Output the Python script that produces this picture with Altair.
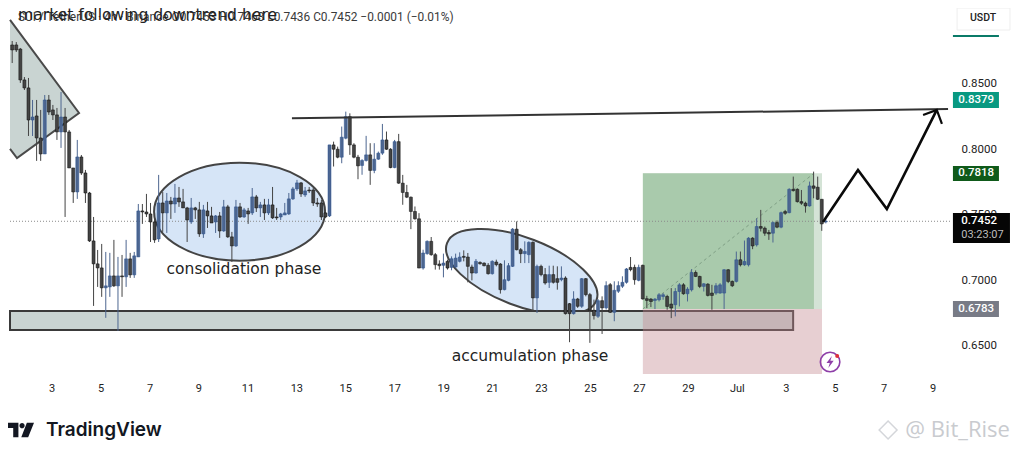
import altair as alt
import pandas as pd

opens = [.8798,.8798,.8767,.8531,.8470,.8225,.8256,.8088,.7966,.8378,
 .8302,.8264,.8134,.8248,.8134,.7859,.7676,.7943,.7821,.7668,
 .7302,.7127,.7096,.6944,.6951,.7035,.6959,.7035,.7028,.7165,
 .7043,.7180,.7531,.7523,.7508,.7447,.7317,.7592,.7516,.7607,
 .7584,.7630,.7600,.7554,.7447,.7554,.7539,.7356,.7531,.7493,
 .7447,.7493,.7378,.7562,.7333,.7264,.7562,.7485,.7531,.7516,
 .7638,.7554,.7577,.7516,.7577,.7485,.7485,.7500,.7508,.7623,
 .7699,.7745,.7653,.7691,.7691,.7592,.7592,.7516,.7493,.8035,
 .8002,.7941,.8086,.8251,.8035,.7941,.7878,.7916,.7959,.7840,
 .7926,.7972,.8073,.8002,.7862,.8060,.7743,.7672,.7636,.7527,
 .7471,.7095,.7205,.7299,.7197,.7126,.7116,.7146,.7100,.7103,
 .7146,.7184,.7179,.7103,.7057,.7138,.7133,.7116,.7052,.7141,
 .7126,.6930,.7001,.7108,.7392,.7235,.7205,.7197,.7291,.6867,
 .7108,.7045,.6986,.7045,.7014,.7006,.7019,.6823,.6747,.6859,
 .6803,.7014,.6892,.6773,.6727,.6846,.6791,.6968,.6757,.6918,
 .6956,.6986,.7100,.7100,.7001,.7116,.6861,.6858,.6848,.6853,
 .6878,.6878,.6820,.6815,.6916,.6967,.6899,.6929,.7061,.7031,
 .6955,.6972,.6904,.6904,.6904,.6904,.7082,.6993,.6993,.7158,
 .7120,.7120,.7323,.7272,.7412,.7399,.7366,.7361,.7442,.7407,
 .7526,.7518,.7696,.7696,.7602,.7590,.7569,.7722,.7712,.7620,
 .7447]
highs = [.8828,.8820,.8775,.8553,.8546,.8378,.8378,.8302,.8416,.8416,
 .8340,.8317,.8439,.8317,.8149,.7859,.8073,.7958,.7844,.7676,
 .7485,.7233,.7279,.7218,.7211,.7310,.7180,.7195,.7310,.7211,
 .7218,.7584,.7584,.7661,.7592,.7516,.7806,.7676,.7668,.7638,
 .7737,.7714,.7699,.7562,.7630,.7562,.7600,.7577,.7600,.7562,
 .7500,.7523,.7615,.7577,.7371,.7615,.7592,.7554,.7554,.7706,
 .7653,.7600,.7623,.7623,.7714,.7554,.7516,.7592,.7668,.7714,
 .7768,.7752,.7714,.7714,.7706,.7630,.7615,.7539,.8035,.8060,
 .8022,.8175,.8289,.8276,.8048,.7959,.7926,.8104,.8048,.8048,
 .7984,.8195,.8137,.8010,.8073,.8119,.7806,.7730,.7641,.7565,
 .7514,.7235,.7306,.7332,.7210,.7154,.7205,.7159,.7184,.7205,
 .7215,.7230,.7210,.7121,.7164,.7146,.7138,.7133,.7154,.7159,
 .7133,.7154,.7133,.7400,.7451,.7248,.7299,.7299,.7299,.7121,
 .7121,.7095,.7113,.7113,.7108,.7108,.7032,.6828,.6918,.6867,
 .7019,.7019,.6905,.6854,.6859,.6879,.6994,.6981,.6994,.6994,
 .7032,.7095,.7179,.7121,.7121,.7121,.6883,.6866,.6866,.6904,
 .6904,.6891,.6942,.6942,.6980,.6980,.6949,.7087,.7077,.7036,
 .6980,.6980,.6967,.6980,.6980,.7087,.7087,.7000,.7221,.7221,
 .7305,.7331,.7331,.7475,.7539,.7412,.7386,.7450,.7458,.7526,
 .7539,.7704,.7793,.7704,.7691,.7602,.7755,.7831,.7793,.7620,
 .7468]
lows = [.8660,.8744,.8508,.8454,.8103,.8103,.7913,.7913,.7966,.8264,
 .8225,.8073,.8012,.7485,.7859,.7592,.7623,.7806,.7592,.7294,
 .6806,.6951,.6875,.6715,.6875,.6951,.6615,.6875,.6951,.7020,
 .7020,.7180,.7432,.7485,.7294,.7287,.7294,.7371,.7363,.7470,
 .7516,.7562,.7554,.7294,.7432,.7470,.7333,.7325,.7401,.7439,
 .7363,.7325,.7371,.7325,.7142,.7256,.7478,.7478,.7432,.7500,
 .7523,.7485,.7462,.7500,.7470,.7462,.7462,.7500,.7500,.7615,
 .7684,.7638,.7638,.7668,.7569,.7562,.7462,.7478,.7485,.7870,
 .7933,.7895,.8078,.7959,.7933,.7773,.7807,.7908,.7730,.7819,
 .7921,.7959,.7997,.7857,.7857,.7738,.7578,.7629,.7392,.7464,
 .7095,.7083,.7197,.7189,.7083,.7083,.7024,.7083,.7078,.7095,
 .7138,.7146,.6986,.7001,.7052,.7121,.7108,.7045,.7045,.7108,
 .6900,.6925,.6994,.7103,.7230,.7133,.7133,.7133,.6765,.6752,
 .7032,.6968,.6943,.6976,.6930,.6994,.6740,.6529,.6740,.6791,
 .6791,.6879,.6524,.6702,.6714,.6592,.6778,.6752,.6689,.6905,
 .6943,.6976,.7070,.6968,.6994,.6854,.6789,.6797,.6782,.6840,
 .6853,.6777,.6713,.6726,.6802,.6891,.6840,.6916,.7026,.6942,
 .6916,.6878,.6777,.6891,.6899,.6782,.6980,.6950,.6985,.7107,
 .7112,.7107,.7239,.7259,.7374,.7341,.7310,.7290,.7399,.7399,
 .7501,.7513,.7679,.7595,.7577,.7518,.7564,.7628,.7615,.7379,
 .7436]
closes = [.8760,.8760,.8531,.8470,.8225,.8248,.8088,.7966,.8378,.8286,
 .8264,.8134,.8248,.8134,.7859,.7676,.7943,.7821,.7668,.7302,
 .7127,.7096,.6944,.6959,.7035,.6959,.7035,.7028,.7165,.7043,
 .7188,.7531,.7523,.7508,.7447,.7310,.7592,.7516,.7607,.7584,
 .7630,.7600,.7554,.7462,.7554,.7539,.7356,.7539,.7493,.7439,
 .7493,.7378,.7562,.7333,.7264,.7562,.7485,.7539,.7508,.7638,
 .7554,.7577,.7516,.7577,.7478,.7478,.7508,.7516,.7623,.7699,
 .7745,.7661,.7684,.7684,.7592,.7584,.7485,.7485,.8035,.8002,
 .7941,.8094,.8251,.8035,.7941,.7875,.7916,.7959,.7840,.7926,
 .7972,.8073,.8002,.7862,.8060,.7743,.7672,.7636,.7527,.7471,
 .7095,.7210,.7299,.7197,.7121,.7113,.7133,.7095,.7166,.7171,
 .7179,.7177,.7108,.7057,.7146,.7128,.7113,.7052,.7146,.7121,
 .6930,.7006,.7113,.7392,.7235,.7205,.7222,.7291,.6867,.7108,
 .7045,.6981,.7045,.6986,.6986,.7019,.6747,.6747,.6859,.6803,
 .7014,.6892,.6773,.6732,.6846,.6791,.6961,.6757,.6925,.6961,
 .6986,.7088,.7083,.7006,.7100,.6859,.6848,.6840,.6858,.6891,
 .6891,.6802,.6790,.6916,.6967,.6899,.6934,.7061,.7031,.6955,
 .6975,.6886,.6886,.6960,.6967,.7082,.6993,.6960,.7158,.7120,
 .7145,.7323,.7264,.7412,.7399,.7361,.7356,.7442,.7407,.7518,
 .7513,.7696,.7686,.7602,.7590,.7569,.7722,.7704,.7620,.7432,
 .7452]
first_day = 1.39
days_per_candle = 0.16623

day_ticks = list(range(3, 40, 2))
price_ticks = [.65, .70, .75, .80, .85]
x_domain = [1.30, 39.71]
y_domain = [.6271, .9080]

xs = alt.Scale(domain=x_domain, nice=False, zero=False, padding=0)
ys = alt.Scale(domain=y_domain, nice=False, zero=False, padding=0)

candles = pd.DataFrame({
    "d": [first_day + i * days_per_candle for i in range(len(opens))],
    "o": opens, "h": highs, "l": lows, "c": closes,
    "dir": ["up" if c >= o else "down" for o, c in zip(opens, closes)],
})
BLUE, BLACK = "#2a5391", "#0c0c0c"
dir_scale = alt.Scale(domain=["up", "down"], range=[BLUE, BLACK])
wick_scale = alt.Scale(domain=["up", "down"], range=["#4d6690", "#444444"])


def X(f="x"):
    return alt.X(f"{f}:Q", scale=xs, axis=None, title=None)


def Y(f="y"):
    return alt.Y(f"{f}:Q", scale=ys, axis=None, title=None)


def rect(x1, x2, y1, y2, **style):
    return alt.Chart(pd.DataFrame([dict(x=x1, x2=x2, y=y1, y2=y2)])).mark_rect(**style).encode(
        x=X(), x2="x2:Q", y=Y(), y2="y2:Q")


def line(xv, yv, **style):
    return alt.Chart(pd.DataFrame(dict(x=xv, y=yv, o=range(len(xv))))).mark_line(**style).encode(
        x=X(), y=Y(), order="o:Q")


def label(t, x, y, **style):
    style.setdefault("font", "DejaVu Sans")
    style.setdefault("baseline", "middle")
    return alt.Chart(pd.DataFrame([dict(x=x, y=y, t=t)])).mark_text(**style).encode(
        x=X(), y=Y(), text="t:N")


def symbol(x, y, **style):
    return alt.Chart(pd.DataFrame([dict(x=x, y=y)])).mark_point(**style).encode(x=X(), y=Y())


GREY_FILL = "#c9d4d2"
layers = []

# axes carried on an invisible layer
layers.append(alt.Chart(pd.DataFrame(dict(x=[x_domain[0]], y=[y_domain[0]]))).mark_point(opacity=0).encode(
    x=alt.X("x:Q", scale=xs, title=None, axis=alt.Axis(
        values=day_ticks, grid=False, domain=False, ticks=False, labelPadding=6,
        labelFont="Roboto", labelFontSize=11, labelColor="#222222", labelFlush=False,
        labelOverlap=False,
        labelExpr="datum.value==31?'Jul':datum.value>31?format(datum.value-30,'d'):format(datum.value,'d')")),
    y=alt.Y("y:Q", scale=ys, title=None, axis=alt.Axis(
        orient="right", values=price_ticks, grid=False, domain=False, ticks=False, labelPadding=11,
        labelFont="Roboto", labelFontSize=11.5, labelColor="#222222", format=".4f")),
))

# wedge top-left
wedge = pd.DataFrame(dict(x=[1.30, 1.586, 4.12], y=[.8989, .8917, .8279], y2=[.8004, .7935, .8279]))
layers.append(alt.Chart(wedge).mark_area(color=GREY_FILL, opacity=1).encode(x=X(), y=Y(), y2="y2:Q"))
layers.append(line([1.30, 4.12, 1.586, 1.30], [.8989, .8279, .7935, .8004], color="#4a4a4a", strokeWidth=2))

# ellipses
ELL1 = "M-1,0 A1,0.573 0 1,1 1,0 A1,0.573 0 1,1 -1,0 Z"
ELL2 = "M-1,0 A1,0.425 0 1,1 1,0 A1,0.425 0 1,1 -1,0 Z"
layers.append(symbol(10.68, .7525, shape=ELL1, size=29240, filled=True, fill="#d6e5f7", stroke="#444444",
                     strokeWidth=2, opacity=1))
layers.append(symbol(22.21, .7067, shape=ELL2, size=25600, angle=21, filled=True, fill="#d6e5f7", stroke="#444444",
                     strokeWidth=2, opacity=1))

# support box, then the position tool over it
layers.append(rect(1.30, 33.30, .6767, .6622, fill=GREY_FILL, stroke="#3a3a3a", strokeWidth=2))
layers.append(rect(27.16, 34.48, .7818, .6783, fill="#cfe0d2", opacity=.9))
layers.append(rect(27.16, 34.15, .7818, .6783, fill="#5f9e62", opacity=.36))
layers.append(rect(27.16, 34.48, .6783, .6286, fill="#c2868f", opacity=.4))
layers.append(line([27.16, 34.15], [.6783, .7818], color="#7f9f85", strokeWidth=1, strokeDash=[3, 3]))

# last price line
layers.append(line([1.30, 39.71], [.7452, .7452], color="#8a8a8a", strokeWidth=1, strokeDash=[1, 2]))

# candles
layers.append(alt.Chart(candles).mark_rule(strokeWidth=1).encode(
    x=X("d"), y=Y("h"), y2="l:Q", color=alt.Color("dir:N", scale=wick_scale, legend=None)))
layers.append(alt.Chart(candles).mark_bar(size=3, strokeWidth=.5).encode(
    x=X("d"), y=Y("o"), y2="c:Q",
    color=alt.Color("dir:N", scale=dir_scale, legend=None),
    stroke=alt.Stroke("dir:N", scale=dir_scale, legend=None)))

# resistance and projected path
layers.append(line([12.82, 39.63], [.8238, .8309], color="#333333", strokeWidth=2))
layers.append(line([34.52, 35.95, 37.13, 39.17], [.7447, .7844, .7546, .8302], color="#0a0a0a", strokeWidth=2.6))
layers.append(line([38.61, 39.17, 39.38], [.8263, .8302, .8195], color="#0a0a0a", strokeWidth=2.2))

# annotation text
layers.append(label("consolidation phase", 10.86, .7088, fontSize=15.5, align="center", color="#222222"))
layers.append(label("accumulation phase", 22.55, .6424, fontSize=15.5, align="center", color="#222222"))
layers.append(label("SUI / TetherUS · 4h · Binance  O0.7453  H0.7468  L0.7436  C0.7452  −0.0001 (−0.01%)",
                    1.627, .9011, fontSize=11.9, align="left", color="#3a3a3a", font="Roboto"))
layers.append(label("market following downtrend here", 1.627, .9027, fontSize=15.6, align="left", color="#222222"))

# price scale tags
layers.append(rect(40.0, 42.16, .9080, .8912, fill="#ffffff", stroke="#eeeeee", strokeWidth=1))
layers.append(label("USDT", 41.06, .9004, fontSize=10.5, align="center", color="#222222", font="Roboto", fontWeight=500))
layers.append(rect(39.83, 41.71, .8874, .8859, fill="#0a7a68"))
for top, bot, col, txt in [(.8439, .8317, "#089981", "0.8379"),
                           (.7874, .7760, "#0f5a1a", "0.7818"),
                           (.6844, .6721, "#787b86", "0.6783")]:
    layers.append(rect(39.83, 41.71, top, bot, fill=col))
    layers.append(label(txt, 40.78, (top + bot) / 2, fontSize=11.5, align="center", color="#ffffff",
                        font="Roboto", fontWeight=500))
layers.append(rect(39.83, 42.16, .7515, .7286, fill="#050505"))
layers.append(label("0.7452", 40.17, .7452, fontSize=11.5, align="left", color="#ffffff", font="Roboto", fontWeight=500))
layers.append(label("03:23:07", 40.17, .7347, fontSize=11, align="left", color="#bdbdbd", font="Roboto"))

# lightning badge
layers.append(symbol(34.81, .6378, shape="circle", size=380, filled=False, stroke="#8e3fa8", strokeWidth=1.6, opacity=1))
layers.append(symbol(34.81, .6378, shape="M.3,-1 L-.6,.15 L-.05,.15 L-.3,1 L.6,-.2 L.05,-.2 Z", size=144, filled=True,
                     fill="#8e3fa8", opacity=1))
layers.append(symbol(35.10, .6424, shape="circle", size=16, filled=True, fill="#e0303a", opacity=1))

# footer
LOGO = ("M-1,-.55 L-.2,-.55 L-.2,.55 L-.6,.55 L-.6,-.15 L-1,-.15 Z "
        "M-.12,-.33 A.2,.2 0 1,1 .28,-.33 A.2,.2 0 1,1 -.12,-.33 Z "
        "M.45,-.55 L1,-.55 L.55,.55 L.02,.55 Z")
layers.append(symbol(1.75, .5859, shape=LOGO, size=676, filled=True, fill="#131722", opacity=1))
layers.append(label("TradingView", 2.77, .5859, fontSize=19, fontWeight=600, align="left", color="#131722", font="Inter"))
layers.append(symbol(37.18, .5859, shape="diamond", size=320, filled=False, stroke="#d4d6da", strokeWidth=1.5, opacity=1))
layers.append(label("@ Bit_Rise", 37.88, .5859, fontSize=22, align="left", color="#c9cbcf", font="Open Sans"))

# panel frame
frame = alt.Chart(pd.DataFrame([{}]))
layers.append(frame.mark_rule(color="#eeeeee", strokeWidth=1).encode(x=alt.value(0), x2=alt.value(1002), y=alt.value(392)))
layers.append(frame.mark_rule(color="#eeeeee", strokeWidth=1).encode(x=alt.value(1002), y=alt.value(0), y2=alt.value(392)))

chart = alt.layer(*layers).properties(
    width=940, height=368,
    autosize=alt.AutoSizeParams(type="none"),
    padding={"left": 2, "top": 0, "right": 66, "bottom": 74},
    background="#ffffff",
).resolve_axis(x="independent", y="independent").configure_view(stroke=None)

chart.save("out.html", embed_options={"renderer": "svg", "actions": False})
